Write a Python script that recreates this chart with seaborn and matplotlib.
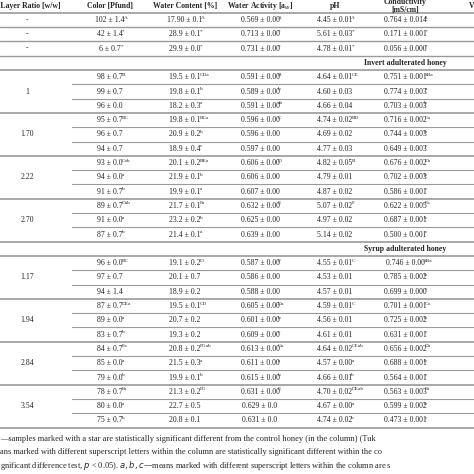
import matplotlib.pyplot as plt
import seaborn as sns

sns.set_theme(style="white")
plt.rcParams['font.family'] = ['Liberation Serif', 'DejaVu Serif']

# table data: (main text, superscript)
headers = ["= Layer Ratio [w/w]", "Color [Pfund]", "Water Content [%]", "Water Activity [a$_w$]", "pH", "Conductivity\n[mS/cm]", "V"]

control_color = [("102 ± 1.4", "A"), ("42 ± 1.4", "*"), ("6 ± 0.7", "*")]
control_water = [("17.90 ± 0.1", "A"), ("28.9 ± 0.1", "*"), ("29.9 ± 0.0", "*")]
control_aw = [("0.569 ± 0.00", "A"), ("0.713 ± 0.00", "*"), ("0.731 ± 0.00", "*")]
control_ph = [("4.45 ± 0.01", "A"), ("5.61 ± 0.03", "*"), ("4.78 ± 0.01", "*")]
control_cond = [("0.764 ± 0.014", "A"), ("0.171 ± 0.001", "*"), ("0.056 ± 0.000", "*")]

invert_ratio = ["1", "1.70", "2.22", "2.70"]
invert_color = [("98 ± 0.7", "B"), ("99 ± 0.7", ""), ("96 ± 0.0", ""),
                ("95 ± 0.7", "BC"), ("96 ± 0.7", ""), ("94 ± 0.7", ""),
                ("93 ± 0.0", "Cab"), ("94 ± 0.0", "a"), ("91 ± 0.7", "b"),
                ("89 ± 0.7", "Dab"), ("91 ± 0.0", "a"), ("87 ± 0.7", "b")]
invert_water = [("19.5 ± 0.1", "CDa"), ("19.8 ± 0.1", "b"), ("18.2 ± 0.3", "a"),
                ("19.8 ± 0.1", "BCa"), ("20.9 ± 0.2", "b"), ("18.9 ± 0.4", "c"),
                ("20.1 ± 0.2", "BEa"), ("21.9 ± 0.1", "b"), ("19.9 ± 0.1", "a"),
                ("21.7 ± 0.1", "Fa"), ("23.2 ± 0.2", "b"), ("21.4 ± 0.1", "a")]
invert_aw = [("0.591 ± 0.00", "B"), ("0.589 ± 0.00", "b"), ("0.591 ± 0.00", "ab"),
             ("0.596 ± 0.00", "C"), ("0.596 ± 0.00", ""), ("0.597 ± 0.00", ""),
             ("0.606 ± 0.00", "D"), ("0.606 ± 0.00", ""), ("0.607 ± 0.00", ""),
             ("0.632 ± 0.00", "E"), ("0.625 ± 0.00", ""), ("0.639 ± 0.00", "")]
invert_ph = [("4.64 ± 0.01", "CE"), ("4.60 ± 0.03", ""), ("4.66 ± 0.04", ""),
             ("4.74 ± 0.02", "BD"), ("4.69 ± 0.02", ""), ("4.77 ± 0.03", ""),
             ("4.82 ± 0.05", "B"), ("4.79 ± 0.01", ""), ("4.87 ± 0.02", ""),
             ("5.07 ± 0.02", "F"), ("4.97 ± 0.02", ""), ("5.14 ± 0.02", "")]
invert_cond = [("0.751 ± 0.001", "ABa"), ("0.774 ± 0.003", "a"), ("0.703 ± 0.003", "b"),
               ("0.716 ± 0.002", "Ca"), ("0.744 ± 0.003", "b"), ("0.649 ± 0.003", "c"),
               ("0.676 ± 0.002", "Da"), ("0.702 ± 0.003", "b"), ("0.586 ± 0.001", "c"),
               ("0.622 ± 0.005", "Ea"), ("0.687 ± 0.001", "b"), ("0.500 ± 0.001", "c")]

syrup_ratio = ["1.17", "1.94", "2.84", "3.54"]
syrup_color = [("96 ± 0.0", "BC"), ("97 ± 0.7", ""), ("94 ± 1.4", ""),
               ("87 ± 0.7", "DEa"), ("89 ± 0.0", "a"), ("83 ± 0.7", "b"),
               ("84 ± 0.7", "Ea"), ("85 ± 0.0", "a"), ("79 ± 0.0", "b"),
               ("78 ± 0.7", "Fa"), ("80 ± 0.0", "a"), ("75 ± 0.7", "b")]
syrup_water = [("19.1 ± 0.2", "D"), ("20.1 ± 0.7", ""), ("18.9 ± 0.2", ""),
               ("19.5 ± 0.1", "CD"), ("20.7 ± 0.2", ""), ("19.3 ± 0.2", ""),
               ("20.8 ± 0.2", "FGab"), ("21.5 ± 0.3", "a"), ("19.9 ± 0.1", "b"),
               ("21.3 ± 0.2", "FG"), ("22.7 ± 0.5", ""), ("20.8 ± 0.1", "")]
syrup_aw = [("0.587 ± 0.00", "F"), ("0.586 ± 0.00", ""), ("0.588 ± 0.00", ""),
            ("0.605 ± 0.00", "Da"), ("0.601 ± 0.00", "b"), ("0.609 ± 0.00", "c"),
            ("0.613 ± 0.00", "Ga"), ("0.611 ± 0.00", "a"), ("0.615 ± 0.00", "b"),
            ("0.631 ± 0.00", "E"), ("0.629 ± 0.0", ""), ("0.631 ± 0.0", "")]
syrup_ph = [("4.55 ± 0.01", "C"), ("4.53 ± 0.01", ""), ("4.57 ± 0.01", ""),
            ("4.59 ± 0.01", "C"), ("4.56 ± 0.01", ""), ("4.61 ± 0.01", ""),
            ("4.64 ± 0.02", "CEab"), ("4.57 ± 0.00", "a"), ("4.66 ± 0.01", "b"),
            ("4.70 ± 0.02", "DEab"), ("4.67 ± 0.00", "a"), ("4.74 ± 0.02", "b")]
syrup_cond = [("0.746 ± 0.00", "ABa"), ("0.785 ± 0.002", "b"), ("0.699 ± 0.000", "c"),
              ("0.701 ± 0.001", "Ca"), ("0.725 ± 0.002", "b"), ("0.631 ± 0.001", "c"),
              ("0.656 ± 0.002", "Da"), ("0.688 ± 0.001", "b"), ("0.564 ± 0.001", "c"),
              ("0.563 ± 0.003", "Fa"), ("0.599 ± 0.002", "b"), ("0.473 ± 0.001", "c")]

footnote = ["—samples marked with a star are statistically significant different from the control honey (in the column) (Tuk",
            "ans marked with different superscript letters within the column are statistically significant different within the co",
            "gnificant difference test, $p$ < 0.05). $a,b,c$—means marked with different superscript letters within the column are s",
            "uid, solid) (Tukey’s honest significant difference test, $p$ < 0.05)."]

col_x = [27, 110, 185, 260, 335, 405, 472]
fs = 5.6
W = H = 474

fig = plt.figure(figsize=(4.74, 4.74), dpi=100)
ax = fig.add_axes([0, 0, 1, 1])
ax.set_xlim(0, W)
ax.set_ylim(H, 0)
ax.axis("off")


def hline(y, x0=0, lw=0.8):
    ax.plot([x0, W], [y, y], color="#9a9a9a", lw=lw)


def cell(x, y, item):
    main, sup = item
    ax.text(x, y, main, ha="center", va="center", fontsize=fs)
    if sup:
        ax.text(x + len(main) * 1.45 + 0.5, y - 2.5, sup, ha="left", va="center", fontsize=3.8)


for x, h in zip(col_x, headers):
    ax.text(x, 6, h, ha="center", va="center", fontsize=fs, fontweight="bold", linespacing=0.9)
hline(13, lw=1.2)

rh = 14.3
y = 20
for i in range(3):
    ax.text(col_x[0], y, "-", ha="center", va="center", fontsize=fs)
    for x, col in zip(col_x[1:6], [control_color, control_water, control_aw, control_ph, control_cond]):
        cell(x, y, col[i])
    hline(y + rh / 2, lw=1.0)
    y += rh

for title, ratios, cols in [("Invert adulterated honey", invert_ratio,
                             [invert_color, invert_water, invert_aw, invert_ph, invert_cond]),
                            ("Syrup adulterated honey", syrup_ratio,
                             [syrup_color, syrup_water, syrup_aw, syrup_ph, syrup_cond])]:
    ax.text(col_x[5], y, title, ha="center", va="center", fontsize=fs, fontweight="bold")
    hline(y + rh / 2, lw=1.2)
    y += rh
    for g, r in enumerate(ratios):
        ax.text(col_x[0], y + rh, r, ha="center", va="center", fontsize=fs)
        for k in range(3):
            for x, col in zip(col_x[1:6], cols):
                cell(x, y, col[g * 3 + k])
            if k < 2:
                hline(y + rh / 2, x0=72, lw=0.8)
            else:
                hline(y + rh / 2, lw=1.2)
            y += rh

for i, line in enumerate(footnote):
    ax.text(0, y + 4 + i * 13.3, line, ha="left", va="center", fontsize=6)

fig.savefig("out.png", dpi=100, facecolor="white")
